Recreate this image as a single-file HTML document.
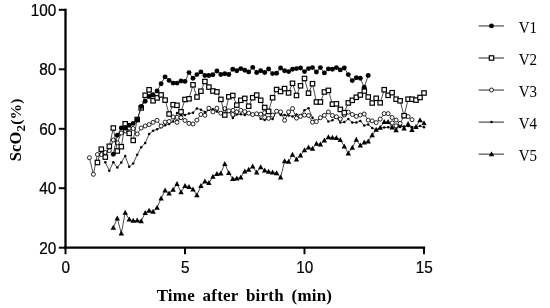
<!DOCTYPE html>
<html><head><meta charset="utf-8"><title>ScO2 chart</title>
<style>
html,body{margin:0;padding:0;background:#fff;}
body{width:550px;height:308px;overflow:hidden;position:relative;}
svg{position:absolute;left:0;top:0;display:block;}
.tick{font-family:"Liberation Sans",Arial,sans-serif;font-size:17px;fill:#000;stroke:#000;stroke-width:0.25px;}
.lab{font-family:"Liberation Serif","DejaVu Serif",serif;font-weight:bold;fill:#000;}
.leg{font-family:"Liberation Serif","DejaVu Serif",serif;fill:#000;}
</style></head><body>
<svg width="550" height="308" viewBox="0 0 550 308">
<rect width="550" height="308" fill="#fff"/>

<g stroke="#000" fill="none">
<path d="M65.5 8.7V248.9" stroke-width="2.3"/>
<path d="M64.4 247.7H425.1" stroke-width="2.3"/>
<path d="M58.8 9.8H65" stroke-width="2"/>
<path d="M58.8 69.3H65" stroke-width="2"/>
<path d="M58.8 128.8H65" stroke-width="2"/>
<path d="M58.8 188.2H65" stroke-width="2"/>
<path d="M58.8 247.7H65" stroke-width="2"/>
<path d="M65.5 247V254.2" stroke-width="2"/>
<path d="M185 247V254.2" stroke-width="2"/>
<path d="M304.5 247V254.2" stroke-width="2"/>
<path d="M424 247V254.2" stroke-width="2"/>
</g>
<text class="tick" transform="translate(56.3,15.90) scale(0.9,1)" text-anchor="end">100</text>
<text class="tick" transform="translate(56.3,75.40) scale(0.9,1)" text-anchor="end">80</text>
<text class="tick" transform="translate(56.3,134.90) scale(0.9,1)" text-anchor="end">60</text>
<text class="tick" transform="translate(56.3,194.30) scale(0.9,1)" text-anchor="end">40</text>
<text class="tick" transform="translate(56.3,253.80) scale(0.9,1)" text-anchor="end">20</text>
<text class="tick" transform="translate(65.7,272.9) scale(0.9,1)" text-anchor="middle">0</text>
<text class="tick" transform="translate(185.2,272.9) scale(0.9,1)" text-anchor="middle">5</text>
<text class="tick" transform="translate(304.7,272.9) scale(0.9,1)" text-anchor="middle">10</text>
<text class="tick" transform="translate(424.2,272.9) scale(0.9,1)" text-anchor="middle">15</text>
<text class="lab" transform="translate(244.4,301) scale(1.03,1)" text-anchor="middle" font-size="16.5" letter-spacing="0.2" word-spacing="3.2">Time after birth (min)</text>
<text class="lab" transform="translate(20.8,129.9) rotate(-90)" text-anchor="middle" font-size="16.5" letter-spacing="0.15">ScO<tspan font-size="13" dy="4.2">2</tspan><tspan dy="-4.2" font-size="15.5">(%)</tspan></text>
<g><polyline points="113.3,227.7 117.3,218.3 121.3,233.4 125.2,212.6 129.2,219.5 133.2,220.7 137.2,220.3 141.2,221.1 145.2,212.8 149.1,210.6 153.1,211.6 157.1,207.6 161.1,198.5 165.1,190.5 169.1,193.5 173.1,189.7 177.0,184.0 181.0,192.1 185.0,186.0 189.0,186.8 193.0,189.3 196.9,195.1 200.9,186.0 204.9,181.3 208.9,183.0 212.9,176.7 216.9,173.9 220.8,173.3 224.8,163.8 228.8,172.9 232.8,179.0 236.8,178.5 240.8,177.3 244.8,171.3 248.7,169.7 252.7,166.5 256.7,172.5 260.7,167.1 264.7,170.5 268.6,171.7 272.6,172.5 276.6,173.1 280.6,177.5 284.6,161.2 288.6,161.6 292.5,154.6 296.5,159.4 300.5,155.5 304.5,150.1 308.5,147.5 312.5,148.7 316.4,143.7 320.4,144.3 324.4,140.3 328.4,137.2 332.4,137.6 336.4,137.8 340.3,139.9 344.3,146.3 348.3,153.3 352.3,147.7 356.3,139.7 360.3,145.5 364.2,142.3 368.2,141.3 372.2,135.2 376.2,129.7 380.2,127.6 384.2,121.9 388.1,121.8 392.1,127.5 396.1,130.1 400.1,124.4 404.1,128.3 408.1,124.0 412.0,129.9 416.0,127.0 420.0,120.1 424.0,123.1" fill="none" stroke="#000" stroke-width="0.7"/>
<path d="M113.3 224.8L116.0 229.8L110.6 229.8Z" fill="#000"/>
<path d="M117.3 215.4L120.0 220.4L114.6 220.4Z" fill="#000"/>
<path d="M121.3 230.5L124.0 235.5L118.6 235.5Z" fill="#000"/>
<path d="M125.2 209.7L128.0 214.7L122.5 214.7Z" fill="#000"/>
<path d="M129.2 216.6L131.9 221.6L126.5 221.6Z" fill="#000"/>
<path d="M133.2 217.8L135.9 222.8L130.5 222.8Z" fill="#000"/>
<path d="M137.2 217.4L139.9 222.4L134.5 222.4Z" fill="#000"/>
<path d="M141.2 218.2L143.9 223.2L138.5 223.2Z" fill="#000"/>
<path d="M145.2 209.9L147.9 214.9L142.5 214.9Z" fill="#000"/>
<path d="M149.1 207.7L151.8 212.7L146.4 212.7Z" fill="#000"/>
<path d="M153.1 208.7L155.8 213.7L150.4 213.7Z" fill="#000"/>
<path d="M157.1 204.7L159.8 209.7L154.4 209.7Z" fill="#000"/>
<path d="M161.1 195.6L163.8 200.6L158.4 200.6Z" fill="#000"/>
<path d="M165.1 187.6L167.8 192.6L162.4 192.6Z" fill="#000"/>
<path d="M169.1 190.6L171.8 195.6L166.4 195.6Z" fill="#000"/>
<path d="M173.1 186.8L175.8 191.8L170.4 191.8Z" fill="#000"/>
<path d="M177.0 181.1L179.7 186.1L174.3 186.1Z" fill="#000"/>
<path d="M181.0 189.2L183.7 194.2L178.3 194.2Z" fill="#000"/>
<path d="M185.0 183.1L187.7 188.1L182.3 188.1Z" fill="#000"/>
<path d="M189.0 183.9L191.7 188.9L186.3 188.9Z" fill="#000"/>
<path d="M193.0 186.4L195.7 191.4L190.3 191.4Z" fill="#000"/>
<path d="M196.9 192.2L199.6 197.2L194.2 197.2Z" fill="#000"/>
<path d="M200.9 183.1L203.6 188.1L198.2 188.1Z" fill="#000"/>
<path d="M204.9 178.4L207.6 183.4L202.2 183.4Z" fill="#000"/>
<path d="M208.9 180.1L211.6 185.1L206.2 185.1Z" fill="#000"/>
<path d="M212.9 173.8L215.6 178.8L210.2 178.8Z" fill="#000"/>
<path d="M216.9 171.0L219.6 176.0L214.2 176.0Z" fill="#000"/>
<path d="M220.8 170.4L223.5 175.4L218.2 175.4Z" fill="#000"/>
<path d="M224.8 160.9L227.5 165.9L222.1 165.9Z" fill="#000"/>
<path d="M228.8 170.0L231.5 175.0L226.1 175.0Z" fill="#000"/>
<path d="M232.8 176.1L235.5 181.1L230.1 181.1Z" fill="#000"/>
<path d="M236.8 175.6L239.5 180.6L234.1 180.6Z" fill="#000"/>
<path d="M240.8 174.4L243.5 179.4L238.1 179.4Z" fill="#000"/>
<path d="M244.8 168.4L247.4 173.4L242.1 173.4Z" fill="#000"/>
<path d="M248.7 166.8L251.4 171.8L246.0 171.8Z" fill="#000"/>
<path d="M252.7 163.6L255.4 168.6L250.0 168.6Z" fill="#000"/>
<path d="M256.7 169.6L259.4 174.6L254.0 174.6Z" fill="#000"/>
<path d="M260.7 164.2L263.4 169.2L258.0 169.2Z" fill="#000"/>
<path d="M264.7 167.6L267.4 172.6L262.0 172.6Z" fill="#000"/>
<path d="M268.6 168.8L271.3 173.8L265.9 173.8Z" fill="#000"/>
<path d="M272.6 169.6L275.3 174.6L269.9 174.6Z" fill="#000"/>
<path d="M276.6 170.2L279.3 175.2L273.9 175.2Z" fill="#000"/>
<path d="M280.6 174.6L283.3 179.6L277.9 179.6Z" fill="#000"/>
<path d="M284.6 158.3L287.3 163.3L281.9 163.3Z" fill="#000"/>
<path d="M288.6 158.7L291.3 163.7L285.9 163.7Z" fill="#000"/>
<path d="M292.5 151.7L295.2 156.7L289.8 156.7Z" fill="#000"/>
<path d="M296.5 156.5L299.2 161.5L293.8 161.5Z" fill="#000"/>
<path d="M300.5 152.6L303.2 157.6L297.8 157.6Z" fill="#000"/>
<path d="M304.5 147.2L307.2 152.2L301.8 152.2Z" fill="#000"/>
<path d="M308.5 144.6L311.2 149.6L305.8 149.6Z" fill="#000"/>
<path d="M312.5 145.8L315.2 150.8L309.8 150.8Z" fill="#000"/>
<path d="M316.4 140.8L319.1 145.8L313.8 145.8Z" fill="#000"/>
<path d="M320.4 141.4L323.1 146.4L317.7 146.4Z" fill="#000"/>
<path d="M324.4 137.4L327.1 142.4L321.7 142.4Z" fill="#000"/>
<path d="M328.4 134.3L331.1 139.3L325.7 139.3Z" fill="#000"/>
<path d="M332.4 134.7L335.1 139.7L329.7 139.7Z" fill="#000"/>
<path d="M336.4 134.9L339.1 139.9L333.7 139.9Z" fill="#000"/>
<path d="M340.3 137.0L343.0 142.0L337.6 142.0Z" fill="#000"/>
<path d="M344.3 143.4L347.0 148.4L341.6 148.4Z" fill="#000"/>
<path d="M348.3 150.4L351.0 155.4L345.6 155.4Z" fill="#000"/>
<path d="M352.3 144.8L355.0 149.8L349.6 149.8Z" fill="#000"/>
<path d="M356.3 136.8L359.0 141.8L353.6 141.8Z" fill="#000"/>
<path d="M360.3 142.6L363.0 147.6L357.6 147.6Z" fill="#000"/>
<path d="M364.2 139.4L366.9 144.4L361.6 144.4Z" fill="#000"/>
<path d="M368.2 138.4L370.9 143.4L365.5 143.4Z" fill="#000"/>
<path d="M372.2 132.3L374.9 137.3L369.5 137.3Z" fill="#000"/>
<path d="M376.2 126.8L378.9 131.8L373.5 131.8Z" fill="#000"/>
<path d="M380.2 124.7L382.9 129.7L377.5 129.7Z" fill="#000"/>
<path d="M384.2 119.0L386.9 124.0L381.5 124.0Z" fill="#000"/>
<path d="M388.1 118.9L390.8 123.9L385.4 123.9Z" fill="#000"/>
<path d="M392.1 124.6L394.8 129.6L389.4 129.6Z" fill="#000"/>
<path d="M396.1 127.2L398.8 132.2L393.4 132.2Z" fill="#000"/>
<path d="M400.1 121.5L402.8 126.5L397.4 126.5Z" fill="#000"/>
<path d="M404.1 125.4L406.8 130.4L401.4 130.4Z" fill="#000"/>
<path d="M408.1 121.1L410.8 126.1L405.4 126.1Z" fill="#000"/>
<path d="M412.0 127.0L414.7 132.0L409.3 132.0Z" fill="#000"/>
<path d="M416.0 124.1L418.7 129.1L413.3 129.1Z" fill="#000"/>
<path d="M420.0 117.2L422.7 122.2L417.3 122.2Z" fill="#000"/>
<path d="M424.0 120.2L426.7 125.2L421.3 125.2Z" fill="#000"/>
</g>
<g><polyline points="105.3,162.3 109.3,170.7 113.3,162.3 117.3,167.5 121.3,162.5 125.2,156.0 129.2,166.8 133.2,163.6 137.2,154.7 141.2,147.3 145.2,143.0 149.1,134.0 153.1,130.8 157.1,129.2 161.1,127.3 165.1,125.3 169.1,124.0 173.1,121.4 177.0,113.0 181.0,115.3 185.0,114.9 189.0,113.6 193.0,112.7 196.9,108.4 200.9,109.7 204.9,112.0 208.9,109.7 212.9,109.3 216.9,111.6 220.8,113.2 224.8,114.5 228.8,111.2 232.8,118.1 236.8,114.5 240.8,114.2 244.8,115.1 248.7,113.4 252.7,114.5 256.7,113.9 260.7,118.8 264.7,119.9 268.6,118.5 272.6,119.0 276.6,111.5 280.6,115.1 284.6,115.1 288.6,115.5 292.5,116.4 296.5,114.5 300.5,115.5 304.5,110.3 308.5,108.2 312.5,117.7 316.4,121.4 320.4,117.9 324.4,115.8 328.4,121.6 332.4,120.3 336.4,117.0 340.3,122.5 344.3,122.0 348.3,119.0 352.3,122.5 356.3,122.5 360.3,121.0 364.2,125.5 368.2,124.5 372.2,127.9 376.2,130.0 380.2,127.9 384.2,127.5 388.1,127.3 392.1,127.0 396.1,127.5 400.1,127.0 404.1,126.5 408.1,126.0 412.0,127.0 416.0,127.0 420.0,126.0 424.0,127.3" fill="none" stroke="#000" stroke-width="0.7"/>
<circle cx="105.3" cy="162.3" r="1.25" fill="#000"/>
<circle cx="109.3" cy="170.7" r="1.25" fill="#000"/>
<circle cx="113.3" cy="162.3" r="1.25" fill="#000"/>
<circle cx="117.3" cy="167.5" r="1.25" fill="#000"/>
<circle cx="121.3" cy="162.5" r="1.25" fill="#000"/>
<circle cx="125.2" cy="156.0" r="1.25" fill="#000"/>
<circle cx="129.2" cy="166.8" r="1.25" fill="#000"/>
<circle cx="133.2" cy="163.6" r="1.25" fill="#000"/>
<circle cx="137.2" cy="154.7" r="1.25" fill="#000"/>
<circle cx="141.2" cy="147.3" r="1.25" fill="#000"/>
<circle cx="145.2" cy="143.0" r="1.25" fill="#000"/>
<circle cx="149.1" cy="134.0" r="1.25" fill="#000"/>
<circle cx="153.1" cy="130.8" r="1.25" fill="#000"/>
<circle cx="157.1" cy="129.2" r="1.25" fill="#000"/>
<circle cx="161.1" cy="127.3" r="1.25" fill="#000"/>
<circle cx="165.1" cy="125.3" r="1.25" fill="#000"/>
<circle cx="169.1" cy="124.0" r="1.25" fill="#000"/>
<circle cx="173.1" cy="121.4" r="1.25" fill="#000"/>
<circle cx="177.0" cy="113.0" r="1.25" fill="#000"/>
<circle cx="181.0" cy="115.3" r="1.25" fill="#000"/>
<circle cx="185.0" cy="114.9" r="1.25" fill="#000"/>
<circle cx="189.0" cy="113.6" r="1.25" fill="#000"/>
<circle cx="193.0" cy="112.7" r="1.25" fill="#000"/>
<circle cx="196.9" cy="108.4" r="1.25" fill="#000"/>
<circle cx="200.9" cy="109.7" r="1.25" fill="#000"/>
<circle cx="204.9" cy="112.0" r="1.25" fill="#000"/>
<circle cx="208.9" cy="109.7" r="1.25" fill="#000"/>
<circle cx="212.9" cy="109.3" r="1.25" fill="#000"/>
<circle cx="216.9" cy="111.6" r="1.25" fill="#000"/>
<circle cx="220.8" cy="113.2" r="1.25" fill="#000"/>
<circle cx="224.8" cy="114.5" r="1.25" fill="#000"/>
<circle cx="228.8" cy="111.2" r="1.25" fill="#000"/>
<circle cx="232.8" cy="118.1" r="1.25" fill="#000"/>
<circle cx="236.8" cy="114.5" r="1.25" fill="#000"/>
<circle cx="240.8" cy="114.2" r="1.25" fill="#000"/>
<circle cx="244.8" cy="115.1" r="1.25" fill="#000"/>
<circle cx="248.7" cy="113.4" r="1.25" fill="#000"/>
<circle cx="252.7" cy="114.5" r="1.25" fill="#000"/>
<circle cx="256.7" cy="113.9" r="1.25" fill="#000"/>
<circle cx="260.7" cy="118.8" r="1.25" fill="#000"/>
<circle cx="264.7" cy="119.9" r="1.25" fill="#000"/>
<circle cx="268.6" cy="118.5" r="1.25" fill="#000"/>
<circle cx="272.6" cy="119.0" r="1.25" fill="#000"/>
<circle cx="276.6" cy="111.5" r="1.25" fill="#000"/>
<circle cx="280.6" cy="115.1" r="1.25" fill="#000"/>
<circle cx="284.6" cy="115.1" r="1.25" fill="#000"/>
<circle cx="288.6" cy="115.5" r="1.25" fill="#000"/>
<circle cx="292.5" cy="116.4" r="1.25" fill="#000"/>
<circle cx="296.5" cy="114.5" r="1.25" fill="#000"/>
<circle cx="300.5" cy="115.5" r="1.25" fill="#000"/>
<circle cx="304.5" cy="110.3" r="1.25" fill="#000"/>
<circle cx="308.5" cy="108.2" r="1.25" fill="#000"/>
<circle cx="312.5" cy="117.7" r="1.25" fill="#000"/>
<circle cx="316.4" cy="121.4" r="1.25" fill="#000"/>
<circle cx="320.4" cy="117.9" r="1.25" fill="#000"/>
<circle cx="324.4" cy="115.8" r="1.25" fill="#000"/>
<circle cx="328.4" cy="121.6" r="1.25" fill="#000"/>
<circle cx="332.4" cy="120.3" r="1.25" fill="#000"/>
<circle cx="336.4" cy="117.0" r="1.25" fill="#000"/>
<circle cx="340.3" cy="122.5" r="1.25" fill="#000"/>
<circle cx="344.3" cy="122.0" r="1.25" fill="#000"/>
<circle cx="348.3" cy="119.0" r="1.25" fill="#000"/>
<circle cx="352.3" cy="122.5" r="1.25" fill="#000"/>
<circle cx="356.3" cy="122.5" r="1.25" fill="#000"/>
<circle cx="360.3" cy="121.0" r="1.25" fill="#000"/>
<circle cx="364.2" cy="125.5" r="1.25" fill="#000"/>
<circle cx="368.2" cy="124.5" r="1.25" fill="#000"/>
<circle cx="372.2" cy="127.9" r="1.25" fill="#000"/>
<circle cx="376.2" cy="130.0" r="1.25" fill="#000"/>
<circle cx="380.2" cy="127.9" r="1.25" fill="#000"/>
<circle cx="384.2" cy="127.5" r="1.25" fill="#000"/>
<circle cx="388.1" cy="127.3" r="1.25" fill="#000"/>
<circle cx="392.1" cy="127.0" r="1.25" fill="#000"/>
<circle cx="396.1" cy="127.5" r="1.25" fill="#000"/>
<circle cx="400.1" cy="127.0" r="1.25" fill="#000"/>
<circle cx="404.1" cy="126.5" r="1.25" fill="#000"/>
<circle cx="408.1" cy="126.0" r="1.25" fill="#000"/>
<circle cx="412.0" cy="127.0" r="1.25" fill="#000"/>
<circle cx="416.0" cy="127.0" r="1.25" fill="#000"/>
<circle cx="420.0" cy="126.0" r="1.25" fill="#000"/>
<circle cx="424.0" cy="127.3" r="1.25" fill="#000"/>
</g>
<g><polyline points="89.4,157.7 93.4,174.3 97.4,154.5 101.3,154.5 105.3,152.5 109.3,150.6 113.3,140.0 117.3,142.8 121.3,133.0 125.2,131.0 129.2,128.0 133.2,128.5 137.2,134.0 141.2,128.0 145.2,126.0 149.1,124.6 153.1,122.3 157.1,120.3 161.1,126.0 165.1,122.1 169.1,121.5 173.1,117.0 177.0,122.4 181.0,117.7 185.0,120.5 189.0,123.4 193.0,124.0 196.9,120.1 200.9,114.5 204.9,115.3 208.9,108.2 212.9,111.9 216.9,108.2 220.8,113.2 224.8,108.6 228.8,110.8 232.8,114.5 236.8,111.9 240.8,110.3 244.8,111.6 248.7,113.2 252.7,114.5 256.7,113.8 260.7,114.2 264.7,117.3 268.6,118.4 272.6,115.1 276.6,111.2 280.6,111.9 284.6,120.3 288.6,111.9 292.5,108.6 296.5,118.1 300.5,116.4 304.5,115.1 308.5,115.5 312.5,122.2 316.4,121.6 320.4,117.7 324.4,115.3 328.4,111.9 332.4,115.5 336.4,116.8 340.3,119.0 344.3,115.0 348.3,112.1 352.3,114.5 356.3,116.4 360.3,115.1 364.2,114.0 368.2,120.2 372.2,120.9 376.2,122.6 380.2,119.1 384.2,113.6 388.1,113.6 392.1,117.5 396.1,120.1 400.1,123.4 404.1,116.0 408.1,116.6 412.0,119.7" fill="none" stroke="#000" stroke-width="0.7"/>
<circle cx="177.2" cy="117.4" r="2.0" fill="#fff" stroke="#000" stroke-width="0.85"/>
<circle cx="233.0" cy="110.3" r="2.0" fill="#fff" stroke="#000" stroke-width="0.85"/>
<circle cx="264.6" cy="112.7" r="2.0" fill="#fff" stroke="#000" stroke-width="0.85"/>
<circle cx="392.2" cy="122.9" r="2.0" fill="#fff" stroke="#000" stroke-width="0.85"/>
<circle cx="396.0" cy="125.9" r="2.0" fill="#fff" stroke="#000" stroke-width="0.85"/>
<circle cx="89.4" cy="157.7" r="2.0" fill="#fff" stroke="#000" stroke-width="0.85"/>
<circle cx="93.4" cy="174.3" r="2.0" fill="#fff" stroke="#000" stroke-width="0.85"/>
<circle cx="97.4" cy="154.5" r="2.0" fill="#fff" stroke="#000" stroke-width="0.85"/>
<circle cx="101.3" cy="154.5" r="2.0" fill="#fff" stroke="#000" stroke-width="0.85"/>
<circle cx="105.3" cy="152.5" r="2.0" fill="#fff" stroke="#000" stroke-width="0.85"/>
<circle cx="109.3" cy="150.6" r="2.0" fill="#fff" stroke="#000" stroke-width="0.85"/>
<circle cx="113.3" cy="140.0" r="2.0" fill="#fff" stroke="#000" stroke-width="0.85"/>
<circle cx="117.3" cy="142.8" r="2.0" fill="#fff" stroke="#000" stroke-width="0.85"/>
<circle cx="121.3" cy="133.0" r="2.0" fill="#fff" stroke="#000" stroke-width="0.85"/>
<circle cx="125.2" cy="131.0" r="2.0" fill="#fff" stroke="#000" stroke-width="0.85"/>
<circle cx="129.2" cy="128.0" r="2.0" fill="#fff" stroke="#000" stroke-width="0.85"/>
<circle cx="133.2" cy="128.5" r="2.0" fill="#fff" stroke="#000" stroke-width="0.85"/>
<circle cx="137.2" cy="134.0" r="2.0" fill="#fff" stroke="#000" stroke-width="0.85"/>
<circle cx="141.2" cy="128.0" r="2.0" fill="#fff" stroke="#000" stroke-width="0.85"/>
<circle cx="145.2" cy="126.0" r="2.0" fill="#fff" stroke="#000" stroke-width="0.85"/>
<circle cx="149.1" cy="124.6" r="2.0" fill="#fff" stroke="#000" stroke-width="0.85"/>
<circle cx="153.1" cy="122.3" r="2.0" fill="#fff" stroke="#000" stroke-width="0.85"/>
<circle cx="157.1" cy="120.3" r="2.0" fill="#fff" stroke="#000" stroke-width="0.85"/>
<circle cx="161.1" cy="126.0" r="2.0" fill="#fff" stroke="#000" stroke-width="0.85"/>
<circle cx="165.1" cy="122.1" r="2.0" fill="#fff" stroke="#000" stroke-width="0.85"/>
<circle cx="169.1" cy="121.5" r="2.0" fill="#fff" stroke="#000" stroke-width="0.85"/>
<circle cx="173.1" cy="117.0" r="2.0" fill="#fff" stroke="#000" stroke-width="0.85"/>
<circle cx="177.0" cy="122.4" r="2.0" fill="#fff" stroke="#000" stroke-width="0.85"/>
<circle cx="181.0" cy="117.7" r="2.0" fill="#fff" stroke="#000" stroke-width="0.85"/>
<circle cx="185.0" cy="120.5" r="2.0" fill="#fff" stroke="#000" stroke-width="0.85"/>
<circle cx="189.0" cy="123.4" r="2.0" fill="#fff" stroke="#000" stroke-width="0.85"/>
<circle cx="193.0" cy="124.0" r="2.0" fill="#fff" stroke="#000" stroke-width="0.85"/>
<circle cx="196.9" cy="120.1" r="2.0" fill="#fff" stroke="#000" stroke-width="0.85"/>
<circle cx="200.9" cy="114.5" r="2.0" fill="#fff" stroke="#000" stroke-width="0.85"/>
<circle cx="204.9" cy="115.3" r="2.0" fill="#fff" stroke="#000" stroke-width="0.85"/>
<circle cx="208.9" cy="108.2" r="2.0" fill="#fff" stroke="#000" stroke-width="0.85"/>
<circle cx="212.9" cy="111.9" r="2.0" fill="#fff" stroke="#000" stroke-width="0.85"/>
<circle cx="216.9" cy="108.2" r="2.0" fill="#fff" stroke="#000" stroke-width="0.85"/>
<circle cx="220.8" cy="113.2" r="2.0" fill="#fff" stroke="#000" stroke-width="0.85"/>
<circle cx="224.8" cy="108.6" r="2.0" fill="#fff" stroke="#000" stroke-width="0.85"/>
<circle cx="228.8" cy="110.8" r="2.0" fill="#fff" stroke="#000" stroke-width="0.85"/>
<circle cx="232.8" cy="114.5" r="2.0" fill="#fff" stroke="#000" stroke-width="0.85"/>
<circle cx="236.8" cy="111.9" r="2.0" fill="#fff" stroke="#000" stroke-width="0.85"/>
<circle cx="240.8" cy="110.3" r="2.0" fill="#fff" stroke="#000" stroke-width="0.85"/>
<circle cx="244.8" cy="111.6" r="2.0" fill="#fff" stroke="#000" stroke-width="0.85"/>
<circle cx="248.7" cy="113.2" r="2.0" fill="#fff" stroke="#000" stroke-width="0.85"/>
<circle cx="252.7" cy="114.5" r="2.0" fill="#fff" stroke="#000" stroke-width="0.85"/>
<circle cx="256.7" cy="113.8" r="2.0" fill="#fff" stroke="#000" stroke-width="0.85"/>
<circle cx="260.7" cy="114.2" r="2.0" fill="#fff" stroke="#000" stroke-width="0.85"/>
<circle cx="264.7" cy="117.3" r="2.0" fill="#fff" stroke="#000" stroke-width="0.85"/>
<circle cx="268.6" cy="118.4" r="2.0" fill="#fff" stroke="#000" stroke-width="0.85"/>
<circle cx="272.6" cy="115.1" r="2.0" fill="#fff" stroke="#000" stroke-width="0.85"/>
<circle cx="276.6" cy="111.2" r="2.0" fill="#fff" stroke="#000" stroke-width="0.85"/>
<circle cx="280.6" cy="111.9" r="2.0" fill="#fff" stroke="#000" stroke-width="0.85"/>
<circle cx="284.6" cy="120.3" r="2.0" fill="#fff" stroke="#000" stroke-width="0.85"/>
<circle cx="288.6" cy="111.9" r="2.0" fill="#fff" stroke="#000" stroke-width="0.85"/>
<circle cx="292.5" cy="108.6" r="2.0" fill="#fff" stroke="#000" stroke-width="0.85"/>
<circle cx="296.5" cy="118.1" r="2.0" fill="#fff" stroke="#000" stroke-width="0.85"/>
<circle cx="300.5" cy="116.4" r="2.0" fill="#fff" stroke="#000" stroke-width="0.85"/>
<circle cx="304.5" cy="115.1" r="2.0" fill="#fff" stroke="#000" stroke-width="0.85"/>
<circle cx="308.5" cy="115.5" r="2.0" fill="#fff" stroke="#000" stroke-width="0.85"/>
<circle cx="312.5" cy="122.2" r="2.0" fill="#fff" stroke="#000" stroke-width="0.85"/>
<circle cx="316.4" cy="121.6" r="2.0" fill="#fff" stroke="#000" stroke-width="0.85"/>
<circle cx="320.4" cy="117.7" r="2.0" fill="#fff" stroke="#000" stroke-width="0.85"/>
<circle cx="324.4" cy="115.3" r="2.0" fill="#fff" stroke="#000" stroke-width="0.85"/>
<circle cx="328.4" cy="111.9" r="2.0" fill="#fff" stroke="#000" stroke-width="0.85"/>
<circle cx="332.4" cy="115.5" r="2.0" fill="#fff" stroke="#000" stroke-width="0.85"/>
<circle cx="336.4" cy="116.8" r="2.0" fill="#fff" stroke="#000" stroke-width="0.85"/>
<circle cx="340.3" cy="119.0" r="2.0" fill="#fff" stroke="#000" stroke-width="0.85"/>
<circle cx="344.3" cy="115.0" r="2.0" fill="#fff" stroke="#000" stroke-width="0.85"/>
<circle cx="348.3" cy="112.1" r="2.0" fill="#fff" stroke="#000" stroke-width="0.85"/>
<circle cx="352.3" cy="114.5" r="2.0" fill="#fff" stroke="#000" stroke-width="0.85"/>
<circle cx="356.3" cy="116.4" r="2.0" fill="#fff" stroke="#000" stroke-width="0.85"/>
<circle cx="360.3" cy="115.1" r="2.0" fill="#fff" stroke="#000" stroke-width="0.85"/>
<circle cx="364.2" cy="114.0" r="2.0" fill="#fff" stroke="#000" stroke-width="0.85"/>
<circle cx="368.2" cy="120.2" r="2.0" fill="#fff" stroke="#000" stroke-width="0.85"/>
<circle cx="372.2" cy="120.9" r="2.0" fill="#fff" stroke="#000" stroke-width="0.85"/>
<circle cx="376.2" cy="122.6" r="2.0" fill="#fff" stroke="#000" stroke-width="0.85"/>
<circle cx="380.2" cy="119.1" r="2.0" fill="#fff" stroke="#000" stroke-width="0.85"/>
<circle cx="384.2" cy="113.6" r="2.0" fill="#fff" stroke="#000" stroke-width="0.85"/>
<circle cx="388.1" cy="113.6" r="2.0" fill="#fff" stroke="#000" stroke-width="0.85"/>
<circle cx="392.1" cy="117.5" r="2.0" fill="#fff" stroke="#000" stroke-width="0.85"/>
<circle cx="396.1" cy="120.1" r="2.0" fill="#fff" stroke="#000" stroke-width="0.85"/>
<circle cx="400.1" cy="123.4" r="2.0" fill="#fff" stroke="#000" stroke-width="0.85"/>
<circle cx="404.1" cy="116.0" r="2.0" fill="#fff" stroke="#000" stroke-width="0.85"/>
<circle cx="408.1" cy="116.6" r="2.0" fill="#fff" stroke="#000" stroke-width="0.85"/>
<circle cx="412.0" cy="119.7" r="2.0" fill="#fff" stroke="#000" stroke-width="0.85"/>
</g>
<g><polyline points="97.4,162.5 101.3,149.2 105.3,157.1 109.3,146.3 113.3,128.0 117.3,151.0 121.3,146.7 125.2,123.8 129.2,133.3 133.2,140.4 137.2,119.5 141.2,107.9 145.2,95.3 149.1,89.8 153.1,100.8 157.1,97.9 161.1,94.9 165.1,100.1 169.1,114.0 173.1,104.7 177.0,105.3 181.0,111.8 185.0,99.5 189.0,98.8 193.0,84.8 196.9,97.0 200.9,91.2 204.9,81.5 208.9,87.1 212.9,91.0 216.9,91.9 220.8,99.4 224.8,115.0 228.8,96.8 232.8,95.5 236.8,105.1 240.8,100.3 244.8,98.4 248.7,106.2 252.7,97.7 256.7,95.1 260.7,100.3 264.7,107.5 268.6,111.4 272.6,97.7 276.6,89.5 280.6,91.5 284.6,88.6 288.6,92.9 292.5,83.3 296.5,95.5 300.5,85.8 304.5,78.5 308.5,93.2 312.5,83.7 316.4,102.0 320.4,102.0 324.4,92.0 328.4,90.4 332.4,104.2 336.4,103.8 340.3,109.4 344.3,112.7 348.3,102.9 352.3,100.3 356.3,97.3 360.3,95.0 364.2,91.0 368.2,97.0 372.2,103.0 376.2,98.3 380.2,102.8 384.2,89.7 388.1,95.3 392.1,92.7 396.1,99.2 400.1,100.8 404.1,115.7 408.1,99.2 412.0,99.2 416.0,100.1 420.0,97.5 424.0,93.0" fill="none" stroke="#000" stroke-width="0.7"/>
<rect x="95.2" y="160.3" width="4.4" height="4.4" fill="#fff" stroke="#000" stroke-width="1.2"/>
<rect x="99.1" y="147.0" width="4.4" height="4.4" fill="#fff" stroke="#000" stroke-width="1.2"/>
<rect x="103.1" y="154.9" width="4.4" height="4.4" fill="#fff" stroke="#000" stroke-width="1.2"/>
<rect x="107.1" y="144.1" width="4.4" height="4.4" fill="#fff" stroke="#000" stroke-width="1.2"/>
<rect x="111.1" y="125.8" width="4.4" height="4.4" fill="#fff" stroke="#000" stroke-width="1.2"/>
<rect x="115.1" y="148.8" width="4.4" height="4.4" fill="#fff" stroke="#000" stroke-width="1.2"/>
<rect x="119.1" y="144.5" width="4.4" height="4.4" fill="#fff" stroke="#000" stroke-width="1.2"/>
<rect x="123.0" y="121.6" width="4.4" height="4.4" fill="#fff" stroke="#000" stroke-width="1.2"/>
<rect x="127.0" y="131.1" width="4.4" height="4.4" fill="#fff" stroke="#000" stroke-width="1.2"/>
<rect x="131.0" y="138.2" width="4.4" height="4.4" fill="#fff" stroke="#000" stroke-width="1.2"/>
<rect x="135.0" y="117.3" width="4.4" height="4.4" fill="#fff" stroke="#000" stroke-width="1.2"/>
<rect x="139.0" y="105.7" width="4.4" height="4.4" fill="#fff" stroke="#000" stroke-width="1.2"/>
<rect x="143.0" y="93.1" width="4.4" height="4.4" fill="#fff" stroke="#000" stroke-width="1.2"/>
<rect x="146.9" y="87.6" width="4.4" height="4.4" fill="#fff" stroke="#000" stroke-width="1.2"/>
<rect x="150.9" y="98.6" width="4.4" height="4.4" fill="#fff" stroke="#000" stroke-width="1.2"/>
<rect x="154.9" y="95.7" width="4.4" height="4.4" fill="#fff" stroke="#000" stroke-width="1.2"/>
<rect x="158.9" y="92.7" width="4.4" height="4.4" fill="#fff" stroke="#000" stroke-width="1.2"/>
<rect x="162.9" y="97.9" width="4.4" height="4.4" fill="#fff" stroke="#000" stroke-width="1.2"/>
<rect x="166.9" y="111.8" width="4.4" height="4.4" fill="#fff" stroke="#000" stroke-width="1.2"/>
<rect x="170.9" y="102.5" width="4.4" height="4.4" fill="#fff" stroke="#000" stroke-width="1.2"/>
<rect x="174.8" y="103.1" width="4.4" height="4.4" fill="#fff" stroke="#000" stroke-width="1.2"/>
<rect x="178.8" y="109.6" width="4.4" height="4.4" fill="#fff" stroke="#000" stroke-width="1.2"/>
<rect x="182.8" y="97.3" width="4.4" height="4.4" fill="#fff" stroke="#000" stroke-width="1.2"/>
<rect x="186.8" y="96.6" width="4.4" height="4.4" fill="#fff" stroke="#000" stroke-width="1.2"/>
<rect x="190.8" y="82.6" width="4.4" height="4.4" fill="#fff" stroke="#000" stroke-width="1.2"/>
<rect x="194.8" y="94.8" width="4.4" height="4.4" fill="#fff" stroke="#000" stroke-width="1.2"/>
<rect x="198.7" y="89.0" width="4.4" height="4.4" fill="#fff" stroke="#000" stroke-width="1.2"/>
<rect x="202.7" y="79.3" width="4.4" height="4.4" fill="#fff" stroke="#000" stroke-width="1.2"/>
<rect x="206.7" y="84.9" width="4.4" height="4.4" fill="#fff" stroke="#000" stroke-width="1.2"/>
<rect x="210.7" y="88.8" width="4.4" height="4.4" fill="#fff" stroke="#000" stroke-width="1.2"/>
<rect x="214.7" y="89.7" width="4.4" height="4.4" fill="#fff" stroke="#000" stroke-width="1.2"/>
<rect x="218.7" y="97.2" width="4.4" height="4.4" fill="#fff" stroke="#000" stroke-width="1.2"/>
<rect x="222.6" y="112.8" width="4.4" height="4.4" fill="#fff" stroke="#000" stroke-width="1.2"/>
<rect x="226.6" y="94.6" width="4.4" height="4.4" fill="#fff" stroke="#000" stroke-width="1.2"/>
<rect x="230.6" y="93.3" width="4.4" height="4.4" fill="#fff" stroke="#000" stroke-width="1.2"/>
<rect x="234.6" y="102.9" width="4.4" height="4.4" fill="#fff" stroke="#000" stroke-width="1.2"/>
<rect x="238.6" y="98.1" width="4.4" height="4.4" fill="#fff" stroke="#000" stroke-width="1.2"/>
<rect x="242.6" y="96.2" width="4.4" height="4.4" fill="#fff" stroke="#000" stroke-width="1.2"/>
<rect x="246.5" y="104.0" width="4.4" height="4.4" fill="#fff" stroke="#000" stroke-width="1.2"/>
<rect x="250.5" y="95.5" width="4.4" height="4.4" fill="#fff" stroke="#000" stroke-width="1.2"/>
<rect x="254.5" y="92.9" width="4.4" height="4.4" fill="#fff" stroke="#000" stroke-width="1.2"/>
<rect x="258.5" y="98.1" width="4.4" height="4.4" fill="#fff" stroke="#000" stroke-width="1.2"/>
<rect x="262.5" y="105.3" width="4.4" height="4.4" fill="#fff" stroke="#000" stroke-width="1.2"/>
<rect x="266.4" y="109.2" width="4.4" height="4.4" fill="#fff" stroke="#000" stroke-width="1.2"/>
<rect x="270.4" y="95.5" width="4.4" height="4.4" fill="#fff" stroke="#000" stroke-width="1.2"/>
<rect x="274.4" y="87.3" width="4.4" height="4.4" fill="#fff" stroke="#000" stroke-width="1.2"/>
<rect x="278.4" y="89.3" width="4.4" height="4.4" fill="#fff" stroke="#000" stroke-width="1.2"/>
<rect x="282.4" y="86.4" width="4.4" height="4.4" fill="#fff" stroke="#000" stroke-width="1.2"/>
<rect x="286.4" y="90.7" width="4.4" height="4.4" fill="#fff" stroke="#000" stroke-width="1.2"/>
<rect x="290.3" y="81.1" width="4.4" height="4.4" fill="#fff" stroke="#000" stroke-width="1.2"/>
<rect x="294.3" y="93.3" width="4.4" height="4.4" fill="#fff" stroke="#000" stroke-width="1.2"/>
<rect x="298.3" y="83.6" width="4.4" height="4.4" fill="#fff" stroke="#000" stroke-width="1.2"/>
<rect x="302.3" y="76.3" width="4.4" height="4.4" fill="#fff" stroke="#000" stroke-width="1.2"/>
<rect x="306.3" y="91.0" width="4.4" height="4.4" fill="#fff" stroke="#000" stroke-width="1.2"/>
<rect x="310.3" y="81.5" width="4.4" height="4.4" fill="#fff" stroke="#000" stroke-width="1.2"/>
<rect x="314.2" y="99.8" width="4.4" height="4.4" fill="#fff" stroke="#000" stroke-width="1.2"/>
<rect x="318.2" y="99.8" width="4.4" height="4.4" fill="#fff" stroke="#000" stroke-width="1.2"/>
<rect x="322.2" y="89.8" width="4.4" height="4.4" fill="#fff" stroke="#000" stroke-width="1.2"/>
<rect x="326.2" y="88.2" width="4.4" height="4.4" fill="#fff" stroke="#000" stroke-width="1.2"/>
<rect x="330.2" y="102.0" width="4.4" height="4.4" fill="#fff" stroke="#000" stroke-width="1.2"/>
<rect x="334.2" y="101.6" width="4.4" height="4.4" fill="#fff" stroke="#000" stroke-width="1.2"/>
<rect x="338.1" y="107.2" width="4.4" height="4.4" fill="#fff" stroke="#000" stroke-width="1.2"/>
<rect x="342.1" y="110.5" width="4.4" height="4.4" fill="#fff" stroke="#000" stroke-width="1.2"/>
<rect x="346.1" y="100.7" width="4.4" height="4.4" fill="#fff" stroke="#000" stroke-width="1.2"/>
<rect x="350.1" y="98.1" width="4.4" height="4.4" fill="#fff" stroke="#000" stroke-width="1.2"/>
<rect x="354.1" y="95.1" width="4.4" height="4.4" fill="#fff" stroke="#000" stroke-width="1.2"/>
<rect x="358.1" y="92.8" width="4.4" height="4.4" fill="#fff" stroke="#000" stroke-width="1.2"/>
<rect x="362.1" y="88.8" width="4.4" height="4.4" fill="#fff" stroke="#000" stroke-width="1.2"/>
<rect x="366.0" y="94.8" width="4.4" height="4.4" fill="#fff" stroke="#000" stroke-width="1.2"/>
<rect x="370.0" y="100.8" width="4.4" height="4.4" fill="#fff" stroke="#000" stroke-width="1.2"/>
<rect x="374.0" y="96.1" width="4.4" height="4.4" fill="#fff" stroke="#000" stroke-width="1.2"/>
<rect x="378.0" y="100.6" width="4.4" height="4.4" fill="#fff" stroke="#000" stroke-width="1.2"/>
<rect x="382.0" y="87.5" width="4.4" height="4.4" fill="#fff" stroke="#000" stroke-width="1.2"/>
<rect x="385.9" y="93.1" width="4.4" height="4.4" fill="#fff" stroke="#000" stroke-width="1.2"/>
<rect x="389.9" y="90.5" width="4.4" height="4.4" fill="#fff" stroke="#000" stroke-width="1.2"/>
<rect x="393.9" y="97.0" width="4.4" height="4.4" fill="#fff" stroke="#000" stroke-width="1.2"/>
<rect x="397.9" y="98.6" width="4.4" height="4.4" fill="#fff" stroke="#000" stroke-width="1.2"/>
<rect x="401.9" y="113.5" width="4.4" height="4.4" fill="#fff" stroke="#000" stroke-width="1.2"/>
<rect x="405.9" y="97.0" width="4.4" height="4.4" fill="#fff" stroke="#000" stroke-width="1.2"/>
<rect x="409.8" y="97.0" width="4.4" height="4.4" fill="#fff" stroke="#000" stroke-width="1.2"/>
<rect x="413.8" y="97.9" width="4.4" height="4.4" fill="#fff" stroke="#000" stroke-width="1.2"/>
<rect x="417.8" y="95.3" width="4.4" height="4.4" fill="#fff" stroke="#000" stroke-width="1.2"/>
<rect x="421.8" y="90.8" width="4.4" height="4.4" fill="#fff" stroke="#000" stroke-width="1.2"/>
</g>
<g><polyline points="113.3,154.2 117.3,135.3 121.3,128.0 125.2,128.0 129.2,125.3 133.2,123.4 137.2,120.0 141.2,106.5 145.2,101.2 149.1,96.5 153.1,94.8 157.1,91.0 161.1,83.8 165.1,76.9 169.1,80.4 173.1,83.1 177.0,83.1 181.0,81.0 185.0,81.4 189.0,72.6 193.0,78.3 196.9,74.6 200.9,71.9 204.9,75.5 208.9,75.5 212.9,74.7 216.9,71.0 220.8,74.5 224.8,73.8 228.8,74.5 232.8,69.3 236.8,70.8 240.8,68.6 244.8,70.3 248.7,71.9 252.7,67.4 256.7,72.5 260.7,70.8 264.7,72.5 268.6,69.0 272.6,73.6 276.6,73.2 280.6,68.0 284.6,70.8 288.6,71.6 292.5,69.3 296.5,68.6 300.5,68.0 304.5,71.6 308.5,68.6 312.5,67.6 316.4,72.0 320.4,67.6 324.4,72.9 328.4,68.9 332.4,69.3 336.4,67.6 340.3,69.9 344.3,68.0 348.3,74.6 352.3,80.6 356.3,77.7 360.3,78.2 364.2,87.2 368.2,75.5" fill="none" stroke="#000" stroke-width="0.7"/>
<circle cx="113.3" cy="154.2" r="2.45" fill="#000"/>
<circle cx="117.3" cy="135.3" r="2.45" fill="#000"/>
<circle cx="121.3" cy="128.0" r="2.45" fill="#000"/>
<circle cx="125.2" cy="128.0" r="2.45" fill="#000"/>
<circle cx="129.2" cy="125.3" r="2.45" fill="#000"/>
<circle cx="133.2" cy="123.4" r="2.45" fill="#000"/>
<circle cx="137.2" cy="120.0" r="2.45" fill="#000"/>
<circle cx="141.2" cy="106.5" r="2.45" fill="#000"/>
<circle cx="145.2" cy="101.2" r="2.45" fill="#000"/>
<circle cx="149.1" cy="96.5" r="2.45" fill="#000"/>
<circle cx="153.1" cy="94.8" r="2.45" fill="#000"/>
<circle cx="157.1" cy="91.0" r="2.45" fill="#000"/>
<circle cx="161.1" cy="83.8" r="2.45" fill="#000"/>
<circle cx="165.1" cy="76.9" r="2.45" fill="#000"/>
<circle cx="169.1" cy="80.4" r="2.45" fill="#000"/>
<circle cx="173.1" cy="83.1" r="2.45" fill="#000"/>
<circle cx="177.0" cy="83.1" r="2.45" fill="#000"/>
<circle cx="181.0" cy="81.0" r="2.45" fill="#000"/>
<circle cx="185.0" cy="81.4" r="2.45" fill="#000"/>
<circle cx="189.0" cy="72.6" r="2.45" fill="#000"/>
<circle cx="193.0" cy="78.3" r="2.45" fill="#000"/>
<circle cx="196.9" cy="74.6" r="2.45" fill="#000"/>
<circle cx="200.9" cy="71.9" r="2.45" fill="#000"/>
<circle cx="204.9" cy="75.5" r="2.45" fill="#000"/>
<circle cx="208.9" cy="75.5" r="2.45" fill="#000"/>
<circle cx="212.9" cy="74.7" r="2.45" fill="#000"/>
<circle cx="216.9" cy="71.0" r="2.45" fill="#000"/>
<circle cx="220.8" cy="74.5" r="2.45" fill="#000"/>
<circle cx="224.8" cy="73.8" r="2.45" fill="#000"/>
<circle cx="228.8" cy="74.5" r="2.45" fill="#000"/>
<circle cx="232.8" cy="69.3" r="2.45" fill="#000"/>
<circle cx="236.8" cy="70.8" r="2.45" fill="#000"/>
<circle cx="240.8" cy="68.6" r="2.45" fill="#000"/>
<circle cx="244.8" cy="70.3" r="2.45" fill="#000"/>
<circle cx="248.7" cy="71.9" r="2.45" fill="#000"/>
<circle cx="252.7" cy="67.4" r="2.45" fill="#000"/>
<circle cx="256.7" cy="72.5" r="2.45" fill="#000"/>
<circle cx="260.7" cy="70.8" r="2.45" fill="#000"/>
<circle cx="264.7" cy="72.5" r="2.45" fill="#000"/>
<circle cx="268.6" cy="69.0" r="2.45" fill="#000"/>
<circle cx="272.6" cy="73.6" r="2.45" fill="#000"/>
<circle cx="276.6" cy="73.2" r="2.45" fill="#000"/>
<circle cx="280.6" cy="68.0" r="2.45" fill="#000"/>
<circle cx="284.6" cy="70.8" r="2.45" fill="#000"/>
<circle cx="288.6" cy="71.6" r="2.45" fill="#000"/>
<circle cx="292.5" cy="69.3" r="2.45" fill="#000"/>
<circle cx="296.5" cy="68.6" r="2.45" fill="#000"/>
<circle cx="300.5" cy="68.0" r="2.45" fill="#000"/>
<circle cx="304.5" cy="71.6" r="2.45" fill="#000"/>
<circle cx="308.5" cy="68.6" r="2.45" fill="#000"/>
<circle cx="312.5" cy="67.6" r="2.45" fill="#000"/>
<circle cx="316.4" cy="72.0" r="2.45" fill="#000"/>
<circle cx="320.4" cy="67.6" r="2.45" fill="#000"/>
<circle cx="324.4" cy="72.9" r="2.45" fill="#000"/>
<circle cx="328.4" cy="68.9" r="2.45" fill="#000"/>
<circle cx="332.4" cy="69.3" r="2.45" fill="#000"/>
<circle cx="336.4" cy="67.6" r="2.45" fill="#000"/>
<circle cx="340.3" cy="69.9" r="2.45" fill="#000"/>
<circle cx="344.3" cy="68.0" r="2.45" fill="#000"/>
<circle cx="348.3" cy="74.6" r="2.45" fill="#000"/>
<circle cx="352.3" cy="80.6" r="2.45" fill="#000"/>
<circle cx="356.3" cy="77.7" r="2.45" fill="#000"/>
<circle cx="360.3" cy="78.2" r="2.45" fill="#000"/>
<circle cx="364.2" cy="87.2" r="2.45" fill="#000"/>
<circle cx="368.2" cy="75.5" r="2.45" fill="#000"/>
</g>
<path d="M478.7 25.95H504" stroke="#000" stroke-width="0.85"/>
<circle cx="491.5" cy="25.9" r="2.45" fill="#000"/>
<text class="leg" transform="translate(518.8,33.05) scale(0.87,1)" font-size="17.2">V1</text>
<path d="M478.7 58.00H504" stroke="#000" stroke-width="0.85"/>
<rect x="489.3" y="55.8" width="4.4" height="4.4" fill="#fff" stroke="#000" stroke-width="1.2"/>
<text class="leg" transform="translate(518.8,65.10) scale(0.87,1)" font-size="17.2">V2</text>
<path d="M478.7 90.05H504" stroke="#000" stroke-width="0.85"/>
<circle cx="491.5" cy="90.0" r="2.0" fill="#fff" stroke="#000" stroke-width="0.85"/>
<text class="leg" transform="translate(518.8,97.15) scale(0.87,1)" font-size="17.2">V3</text>
<path d="M478.7 122.10H504" stroke="#000" stroke-width="0.85"/>
<circle cx="491.5" cy="122.1" r="1.25" fill="#000"/>
<text class="leg" transform="translate(518.8,129.20) scale(0.87,1)" font-size="17.2">V4</text>
<path d="M478.7 154.15H504" stroke="#000" stroke-width="0.85"/>
<path d="M491.5 151.2L494.2 156.2L488.8 156.2Z" fill="#000"/>
<text class="leg" transform="translate(518.8,161.25) scale(0.87,1)" font-size="17.2">V5</text>
</svg></body></html>
